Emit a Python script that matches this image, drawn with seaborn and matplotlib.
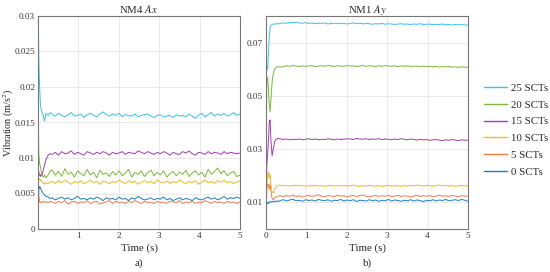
import numpy as np
import pandas as pd
import seaborn as sns
import matplotlib.pyplot as plt

# Series labels and colours (legend order)
labels = ['25 SCTs', '20 SCTs', '15 SCTs', '10 SCTs', '5 SCTs', '0 SCTs']
colors = ['#3cc0ea', '#7cb83c', '#a13db5', '#f5b820', '#f27a4a', '#1a7ec4']

# ---- panel a) NM4 Ax, values in 1e-3 m/s^2 ----
ax_t_start = [0, 0.01, 0.02, 0.04, 0.06, 0.08, 0.10, 0.13, 0.16, 0.20, 0.25, 0.30]
ax_t_plateau = np.linspace(0.35, 5.0, 60)

ax_25 = [0, 28.8, 24.0, 20.0, 17.5, 16.8, 16.4, 16.0, 15.2, 16.3, 16.0, 16.4,
         16.2, 15.9, 16.3, 16.0, 15.8, 16.1, 16.4, 15.9, 16.0, 16.2,
         15.7, 16.1, 16.3, 16.0, 15.8, 16.2, 16.5, 16.1, 15.9, 16.2,
         16.0, 16.3, 15.8, 16.1, 16.0, 15.9, 16.2, 15.8, 16.0, 16.1,
         16.2, 15.9, 15.7, 16.0, 16.1, 15.8, 15.9, 16.0, 15.7, 16.1,
         15.9, 16.0, 15.8, 16.2, 15.9, 15.6, 16.0, 16.3, 15.8, 16.1,
         16.4, 15.9, 16.2, 16.0, 16.3, 15.9, 16.1, 16.4, 16.0, 16.2]
ax_20 = [0, 14.8, 10.5, 9.2, 8.8, 8.0, 7.6, 7.3, 7.6, 7.2, 7.6, 8.2,
         8.3, 7.6, 8.1, 7.4, 8.5, 7.7, 8.0, 7.3, 8.2, 7.8,
         7.5, 8.4, 7.6, 8.0, 7.2, 8.3, 7.7, 7.9, 7.4, 8.1,
         7.6, 8.2, 7.5, 7.9, 8.4, 7.3, 8.0, 7.7, 8.2, 7.4,
         7.9, 8.3, 7.5, 8.0, 7.6, 8.2, 7.3, 7.8, 8.1, 7.5,
         8.0, 7.7, 8.3, 7.4, 7.9, 8.2, 7.6, 8.0, 7.3, 8.4,
         7.7, 8.1, 8.6, 7.8, 8.2, 7.5, 7.9, 8.1, 7.4, 7.6]
ax_15 = [0, 8.5, 8.0, 7.6, 7.4, 7.8, 7.5, 8.3, 9.0, 9.8, 10.4, 10.6,
         10.5, 10.8, 10.4, 10.9, 10.6, 10.7, 11.0, 10.5, 10.8, 10.6,
         10.4, 10.9, 10.7, 10.5, 10.8, 10.6, 10.9, 10.7, 10.4, 10.8,
         10.6, 10.7, 10.9, 10.5, 10.8, 10.7, 10.6, 11.0, 10.8, 10.6,
         10.9, 10.7, 10.5, 10.8, 10.6, 10.9, 10.7, 10.4, 10.8, 10.6,
         10.5, 10.9, 10.7, 11.0, 10.6, 10.4, 10.8, 10.7, 10.5, 10.9,
         10.6, 10.8, 10.7, 10.5, 10.9, 10.6, 10.8, 10.7, 10.6, 10.7]
ax_10 = [0, 7.2, 6.9, 7.1, 6.8, 6.9, 6.6, 6.5, 6.3, 6.5, 6.4, 6.6,
         6.7, 6.4, 6.8, 6.5, 6.9, 6.6, 6.3, 6.7, 6.5, 6.8,
         6.4, 6.6, 6.9, 6.5, 6.7, 6.3, 6.8, 6.6, 6.4, 6.7,
         6.5, 6.9, 6.6, 6.4, 6.8, 6.5, 6.7, 6.3, 6.6, 6.8,
         6.5, 6.7, 6.4, 6.9, 6.6, 6.5, 6.8, 6.4, 6.7, 6.5,
         6.9, 6.6, 6.4, 6.7, 6.5, 6.8, 6.3, 6.6, 6.9, 6.5,
         6.7, 6.4, 6.8, 6.6, 6.9, 6.5, 6.7, 6.4, 6.6, 6.8]
ax_5 = [0, 5.0, 4.6, 3.8, 3.7, 3.8, 3.9, 3.7, 3.9, 3.8, 3.7, 3.9,
        3.8, 3.6, 3.9, 3.7, 4.0, 3.5, 3.8, 3.9, 3.6, 3.8,
        3.7, 4.0, 3.6, 3.8, 3.9, 3.5, 3.7, 3.8, 4.0, 3.6,
        3.9, 3.7, 3.8, 3.6, 3.9, 3.7, 4.0, 3.8, 3.6, 3.9,
        3.7, 3.8, 3.6, 3.9, 3.7, 3.8, 3.6, 3.9, 3.8, 3.7,
        4.0, 3.6, 3.8, 3.7, 3.9, 3.6, 3.8, 3.7, 4.0, 3.8,
        3.6, 3.9, 3.7, 3.8, 3.6, 3.9, 3.7, 3.8, 3.6, 3.8]
ax_0 = [0, 3.5, 5.5, 6.0, 5.8, 5.5, 5.3, 5.0, 4.8, 4.6, 4.5, 4.3,
        4.4, 4.1, 4.3, 4.5, 4.2, 4.4, 4.1, 4.3, 4.6, 4.2,
        4.3, 4.1, 4.4, 4.2, 4.5, 4.3, 4.0, 4.4, 4.2, 4.3,
        4.1, 4.5, 4.2, 4.3, 4.0, 4.4, 4.2, 4.6, 4.3, 4.1,
        4.2, 4.4, 4.1, 4.3, 4.2, 4.5, 4.1, 4.3, 4.0, 4.2,
        4.4, 4.1, 4.3, 4.2, 4.0, 4.4, 4.2, 4.1, 4.3, 4.5,
        4.2, 4.4, 4.1, 4.3, 4.6, 4.2, 4.4, 4.3, 4.5, 4.3]

# ---- panel b) NM1 Ay, values in 1e-3 m/s^2 ----
ay_t_start = [0, 0.01, 0.02, 0.04, 0.06, 0.08, 0.10, 0.12, 0.15, 0.18, 0.22, 0.26, 0.30]
ay_t_plateau = np.linspace(0.35, 5.0, 60)

ay_25 = [0, 58, 61, 60, 66, 72, 75.5, 76.5, 76.8, 77.0, 76.9, 77.2, 77.0,
         77.2, 77.4, 77.3, 77.6, 77.5, 77.7, 77.4, 77.3, 77.5, 77.2,
         77.4, 77.1, 77.3, 77.2, 77.4, 77.0, 77.2, 77.3, 77.1, 77.3,
         77.2, 77.0, 77.2, 77.4, 77.1, 77.3, 77.0, 77.2, 77.1, 76.9,
         77.1, 77.0, 77.2, 76.9, 77.1, 77.0, 76.8, 77.0, 77.1, 76.9,
         77.0, 76.8, 77.0, 76.9, 77.1, 76.8, 76.9, 77.0, 76.7, 76.9,
         76.8, 77.0, 76.7, 76.9, 76.6, 76.8, 76.7, 76.9, 76.6, 76.7]
ay_20 = [0, 35, 56, 57, 53, 47, 44, 48, 55, 58.5, 60.2, 60.8, 61.0,
         60.8, 61.0, 61.3, 61.1, 61.4, 61.2, 61.0, 61.3, 61.1, 61.2,
         61.4, 61.0, 61.2, 61.3, 61.1, 61.5, 61.2, 61.0, 61.3, 61.2,
         61.1, 61.4, 61.2, 61.3, 61.0, 61.2, 61.4, 61.1, 61.3, 61.2,
         61.0, 61.3, 61.1, 61.4, 61.2, 61.1, 61.3, 61.0, 61.2, 61.1,
         61.3, 61.0, 61.2, 61.1, 60.9, 61.2, 61.0, 61.1, 60.9, 61.1,
         60.8, 61.0, 60.9, 61.1, 60.8, 60.9, 60.7, 60.9, 60.8, 60.7]
ay_15 = [0, 15, 24, 28, 33, 40, 41, 34, 27.5, 30, 33, 33.8, 34.0,
         33.9, 33.6, 33.8, 33.5, 33.7, 33.6, 33.8, 33.5, 33.7, 33.9,
         33.6, 33.8, 33.5, 33.7, 33.6, 33.9, 33.7, 33.5, 33.8, 33.6,
         33.7, 33.9, 33.8, 33.6, 34.0, 33.8, 33.7, 33.9, 33.6, 33.8,
         33.7, 33.9, 33.6, 33.8, 33.7, 33.5, 33.8, 33.6, 33.9, 33.7,
         33.5, 33.8, 33.6, 33.4, 33.7, 33.5, 33.6, 33.3, 33.5, 33.6,
         33.4, 33.2, 33.5, 33.3, 33.6, 33.4, 33.2, 33.5, 33.3, 33.4]
ay_10 = [0, 12, 17, 20, 21.5, 19, 20.5, 17, 14, 13.5, 15.2, 16.0, 16.4,
         16.5, 16.2, 16.4, 16.1, 16.3, 16.5, 16.2, 16.4, 16.1, 16.3,
         16.2, 16.4, 16.1, 16.3, 16.0, 16.2, 16.4, 16.1, 16.3, 16.2,
         16.4, 16.1, 16.3, 16.5, 16.2, 16.0, 16.3, 16.1, 16.4, 16.2,
         16.1, 16.3, 16.0, 16.2, 16.4, 16.1, 16.3, 16.2, 16.0, 16.3,
         16.1, 16.4, 16.2, 16.5, 16.3, 16.1, 16.4, 16.2, 16.0, 16.3,
         16.5, 16.2, 16.4, 16.1, 16.3, 16.0, 16.2, 16.4, 16.1, 16.3]
ay_5 = [0, 10, 15, 17, 16.5, 15, 17, 14.5, 11.5, 11, 11.8, 12.1, 12.3,
        12.5, 12.1, 12.6, 12.3, 12.8, 12.2, 12.5, 12.0, 12.4, 12.7,
        12.2, 12.5, 12.9, 12.3, 12.1, 12.6, 12.4, 12.2, 12.7, 12.3,
        12.5, 12.0, 12.4, 12.6, 12.2, 12.5, 12.8, 12.3, 12.1, 12.4,
        12.6, 12.2, 12.5, 12.3, 12.7, 12.1, 12.4, 12.6, 12.2, 12.5,
        12.3, 12.0, 12.4, 12.7, 12.2, 12.5, 12.3, 12.6, 12.1, 12.4,
        12.7, 12.3, 12.5, 12.2, 12.6, 12.4, 12.1, 12.5, 12.3, 12.4]
ay_0 = [0, 8.5, 9.6, 10.0, 9.5, 10.2, 10.0, 10.4, 10.1, 10.5, 10.2, 10.6, 10.3,
        10.7, 11.0, 10.5, 10.9, 11.2, 10.6, 10.8, 10.4, 11.0, 10.7,
        10.9, 10.5, 11.1, 10.8, 10.6, 11.0, 10.4, 10.8, 10.7, 11.1,
        10.5, 10.9, 10.6, 11.0, 10.3, 10.8, 10.7, 10.5, 11.0, 10.6,
        10.9, 10.4, 10.8, 10.6, 11.1, 10.5, 10.9, 10.7, 10.4, 10.8,
        10.6, 11.0, 10.5, 10.9, 10.7, 10.3, 10.8, 10.6, 11.0, 10.5,
        10.9, 10.7, 11.1, 10.6, 10.8, 11.0, 10.7, 11.1, 10.8, 10.4]


def build_df(t_start, t_plateau, series):
    t = np.concatenate([t_start, t_plateau])
    frames = []
    for lab, vals in zip(labels, series):
        frames.append(pd.DataFrame({'t': t, 'v': np.array(vals) / 1000, 'series': lab}))
    return pd.concat(frames, ignore_index=True)


df_ax = build_df(ax_t_start, ax_t_plateau, [ax_25, ax_20, ax_15, ax_10, ax_5, ax_0])
df_ay = build_df(ay_t_start, ay_t_plateau, [ay_25, ay_20, ay_15, ay_10, ay_5, ay_0])

sns.set_style('whitegrid')
plt.rcParams['font.family'] = ['Liberation Serif', 'DejaVu Serif']
plt.rcParams['mathtext.fontset'] = 'stix'

fig = plt.figure(figsize=(5.5, 2.72), dpi=100)
ax1 = fig.add_axes([38 / 550, 43 / 272, 202 / 550, 213 / 272])
ax2 = fig.add_axes([266 / 550, 43 / 272, 202 / 550, 213 / 272])

fs = 7.8
palette = dict(zip(labels, colors))
for ax, df in [(ax1, df_ax), (ax2, df_ay)]:
    # draw 0 SCTs first so the higher ones sit on top
    sns.lineplot(data=df, x='t', y='v', hue='series', hue_order=labels[::-1],
                 palette=palette, estimator=None, sort=False, lw=0.7,
                 legend=False, ax=ax)
    ax.set_xlim(0, 5)
    ax.set_xlabel('Time (s)', fontsize=fs, labelpad=2.5)
    ax.grid(color='#e6e6e6', lw=0.6)
    for s in ax.spines.values():
        s.set_color('#777777')
        s.set_linewidth(0.8)
    ax.tick_params(labelsize=6.6, pad=2, length=0, colors='#333333')

ax1.set_ylim(0, 0.03)
ax1.set_yticks([0, 0.005, 0.01, 0.015, 0.02, 0.025, 0.03])
ax1.set_yticklabels(['0', '0.005', '0.01', '0.015', '0.02', '0.025', '0.03'])
ax1.set_xticks([1, 2, 3, 4, 5])
ax1.set_ylabel('Vibration (m/s$^2$)', fontsize=7.3)
ax1.yaxis.set_label_coords(-0.11, 0.5)
ax1.set_title('NM4 $\\mathit{Ax}$', fontsize=fs, pad=2)
ax1.text(0.5, -0.14, 'a)', transform=ax1.transAxes, ha='center', va='top', fontsize=fs)

ax2.set_ylim(0, 0.08)
ax2.set_yticks([0.01, 0.03, 0.05, 0.07])
ax2.set_yticklabels(['0.01', '0.03', '0.05', '0.07'])
ax2.set_xticks([0, 1, 2, 3, 4, 5])
ax2.set_ylabel('')
ax2.set_title('NM1 $\\mathit{Ay}$', fontsize=fs, pad=2)
ax2.text(0.5, -0.14, 'b)', transform=ax2.transAxes, ha='center', va='top', fontsize=fs)

handles = [plt.Line2D([], [], color=c, lw=1.0) for c in colors]
fig.legend(handles, labels, loc='center left', bbox_to_anchor=(474 / 550, 1 - 130 / 272),
           frameon=False, fontsize=fs, handlelength=2.1, handletextpad=0.4,
           labelspacing=0.67)

fig.savefig('out.png', dpi=100)
